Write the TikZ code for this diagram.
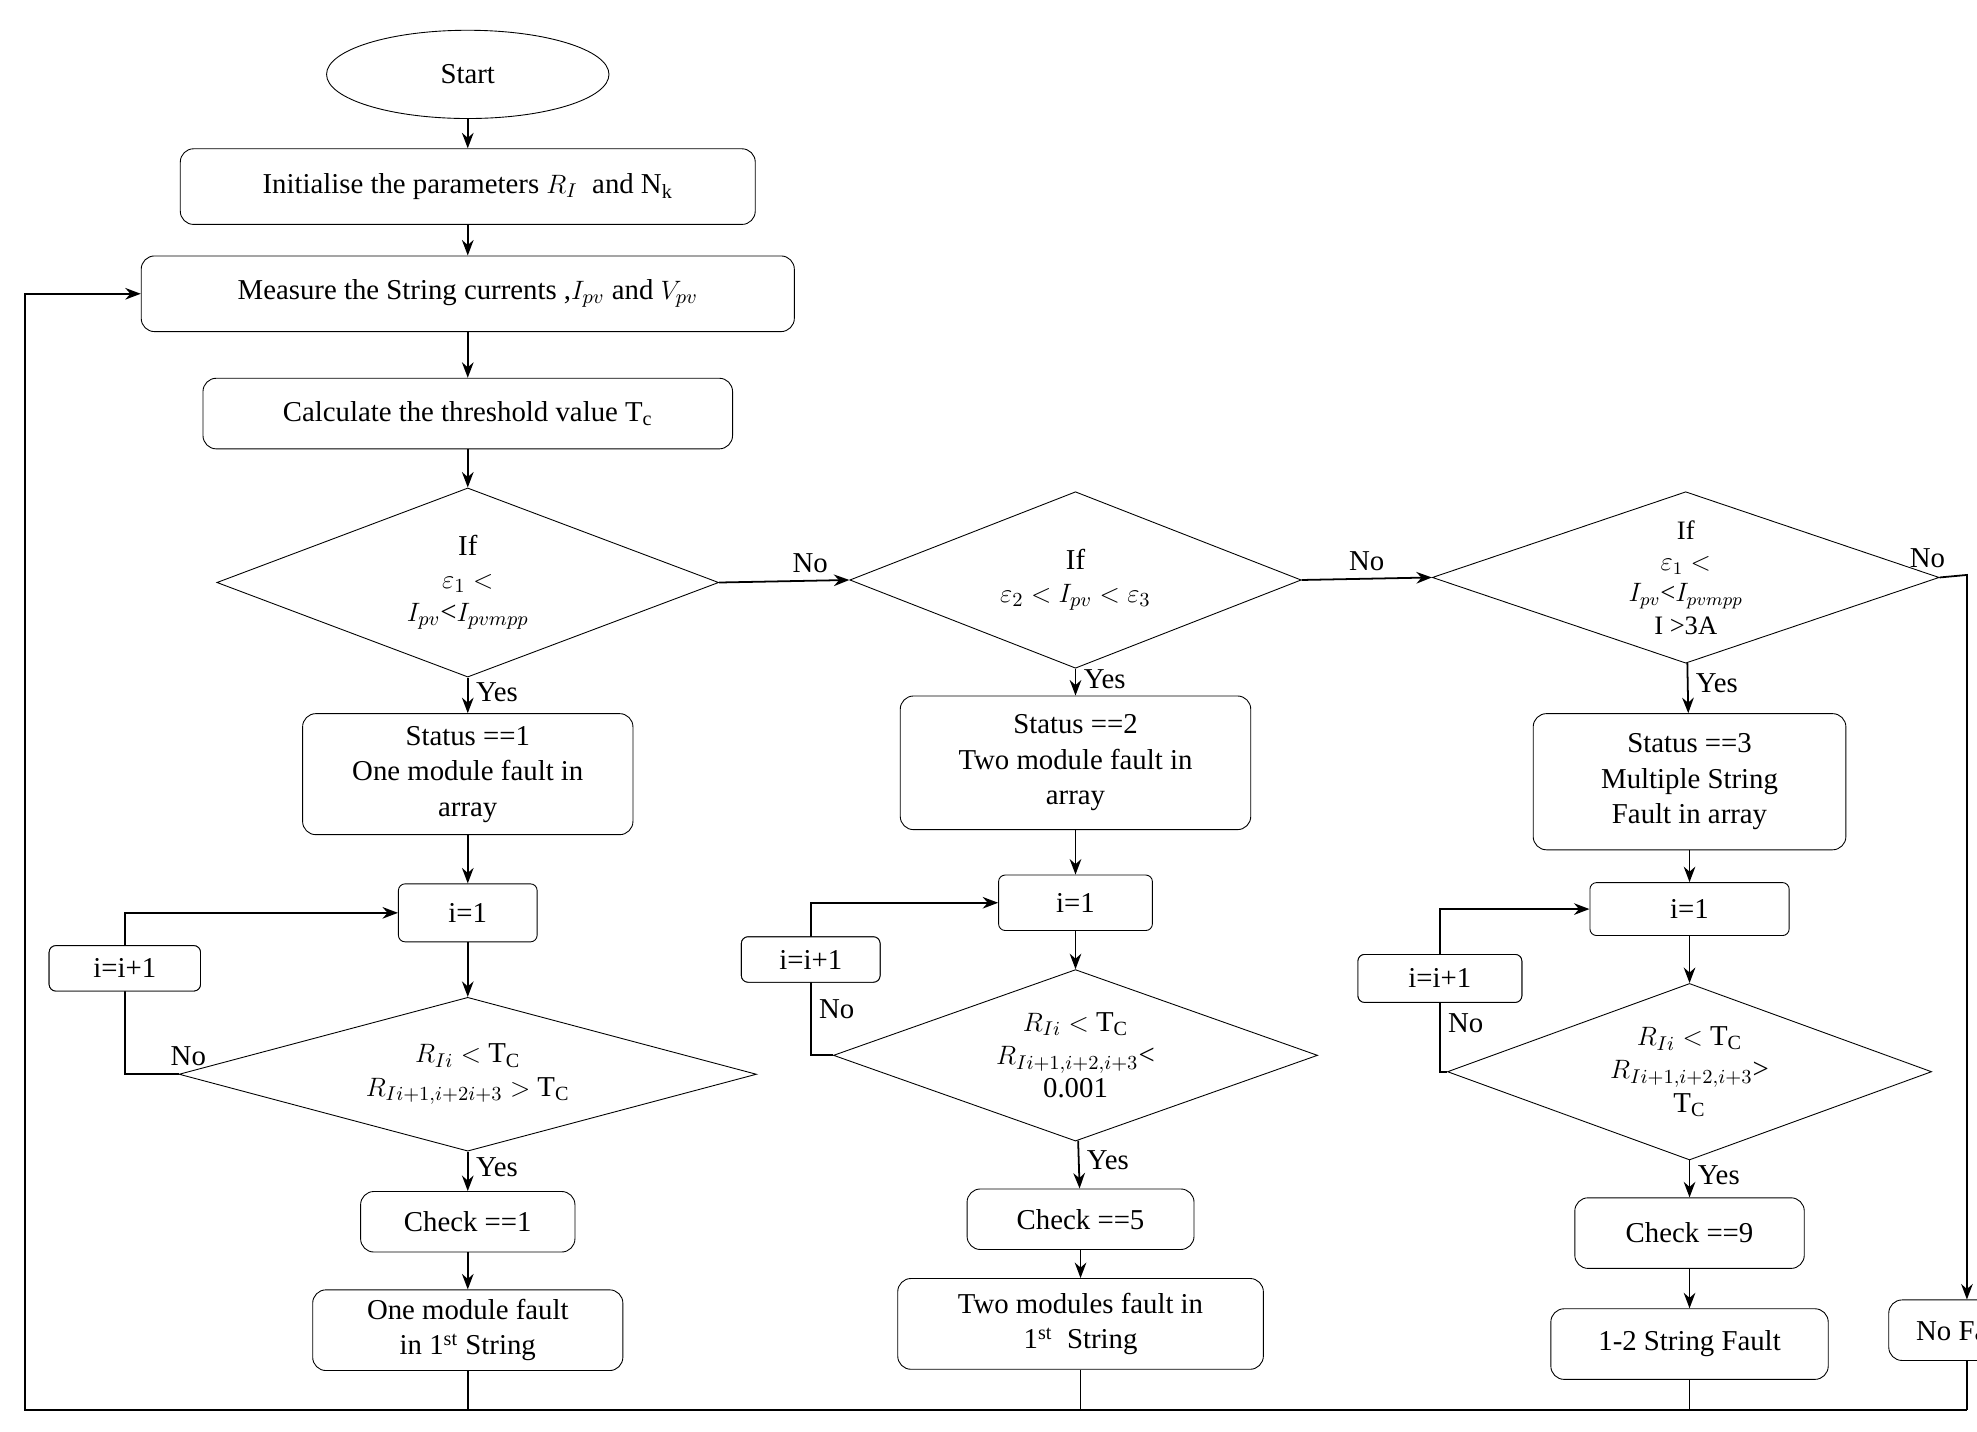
\documentclass[tikz,border=0pt]{standalone}
\usepackage{fontspec}
\setmainfont{Liberation Serif}
\usetikzlibrary{shapes.geometric,arrows.meta}
\tikzset{
  box/.style = {draw, rounded corners=6pt, align=center, inner sep=0pt, font=\fontsize{13}{16}\selectfont},
  dec/.style = {draw, diamond, aspect=2.6, align=center, inner sep=0pt, font=\fontsize{13}{15}\selectfont},
  arr/.style = {-{Stealth[length=7pt]}, thick},
  ln/.style = {thick},
  lab/.style = {font=\fontsize{13}{15}\selectfont}
}
\begin{document}
\begin{tikzpicture}[x=0.02cm, y=-0.02cm]
\useasboundingbox (0,0) rectangle (1568,1135);
\clip (0,0) rectangle (1568,1135);
% main column
\node[draw, ellipse, minimum width=224*0.02cm, minimum height=70*0.02cm, font=\fontsize{13}{15}\selectfont] (start) at (371,59) {Start};
\node[box, minimum width=456*0.02cm, minimum height=60*0.02cm] (init) at (371,148) {Initialise the parameters $R_I$ \ and N$_\mathrm{k}$};
\node[box, minimum width=518*0.02cm, minimum height=60*0.02cm] (meas) at (371,233) {Measure the String currents ,$I_{pv}$ and $V_{pv}$};
\node[box, minimum width=420*0.02cm, minimum height=56*0.02cm] (calc) at (371,328) {Calculate the threshold value T$_\mathrm{c}$};
% column 1
\node[dec, minimum width=398*0.02cm, minimum height=150*0.02cm] (d1) at (371,462) {If\\ $\varepsilon_1<$\\ $I_{pv}$<$I_{pvmpp}$};
\node[box, minimum width=262*0.02cm, minimum height=96*0.02cm] (s1) at (371,614) {Status ==1\\ One module fault in\\ array};
\node[box, rounded corners=3pt, minimum width=110*0.02cm, minimum height=46*0.02cm] (ia) at (371,724) {i=1};
\node[box, rounded corners=3pt, minimum width=120*0.02cm, minimum height=36*0.02cm, fill=white] (inca) at (99,768) {i=i+1};
\node[dec, minimum width=458*0.02cm, minimum height=122*0.02cm] (ra) at (371,852) {$R_{Ii}<$ T$_\mathrm{C}$\\ $R_{Ii+1,i+2i+3}>$ T$_\mathrm{C}$};
\node[box, minimum width=170*0.02cm, minimum height=48*0.02cm] (ca) at (371,969) {Check ==1};
\node[box, minimum width=246*0.02cm, minimum height=64*0.02cm] (oa) at (371,1055) {One module fault\\ in 1$^\mathrm{st}$ String};
% column 2
\node[dec, minimum width=358*0.02cm, minimum height=140*0.02cm] (d2) at (853,460) {If\\ $\varepsilon_2<I_{pv}<\varepsilon_3$};
\node[box, minimum width=278*0.02cm, minimum height=106*0.02cm] (s2) at (853,605) {Status ==2\\ Two module fault in\\ array};
\node[box, rounded corners=3pt, minimum width=122*0.02cm, minimum height=44*0.02cm] (ib) at (853,716) {i=1};
\node[box, rounded corners=3pt, minimum width=110*0.02cm, minimum height=36*0.02cm, fill=white] (incb) at (643,761) {i=i+1};
\node[dec, minimum width=384*0.02cm, minimum height=136*0.02cm] (rb) at (853,837) {$R_{Ii}<$ T$_\mathrm{C}$\\ $R_{Ii+1,i+2,i+3}$<\\ 0.001};
\node[box, minimum width=180*0.02cm, minimum height=48*0.02cm] (cb) at (857,967) {Check ==5};
\node[box, minimum width=290*0.02cm, minimum height=72*0.02cm] (ob) at (857,1050) {Two modules fault in\\ 1$^\mathrm{st}$ \ String};
% column 3
\node[dec, minimum width=402*0.02cm, minimum height=136*0.02cm, font=\fontsize{12}{14}\selectfont] (d3) at (1337,458) {If\\ $\varepsilon_1<$\\ $I_{pv}$<$I_{pvmpp}$\\[1pt] I >3A};
\node[box, minimum width=248*0.02cm, minimum height=108*0.02cm] (s3) at (1340,620) {Status ==3\\ Multiple String\\ Fault in array};
\node[box, rounded corners=3pt, minimum width=158*0.02cm, minimum height=42*0.02cm] (ic) at (1340,721) {i=1};
\node[box, rounded corners=3pt, minimum width=130*0.02cm, minimum height=38*0.02cm, fill=white] (incc) at (1142,776) {i=i+1};
\node[dec, minimum width=384*0.02cm, minimum height=140*0.02cm] (rc) at (1340,850) {$R_{Ii}<$ T$_\mathrm{C}$\\ $R_{Ii+1,i+2,i+3}$>\\ T$_\mathrm{C}$};
\node[box, minimum width=182*0.02cm, minimum height=56*0.02cm] (cc) at (1340,978) {Check ==9};
\node[box, minimum width=220*0.02cm, minimum height=56*0.02cm] (oc) at (1340,1066) {1-2 String Fault};
\node[box, minimum width=124*0.02cm, minimum height=48*0.02cm] (nf) at (1560,1055) {No Fault};
% bottom return line
\coordinate (bl) at (20,1118);
\coordinate (br) at (1560,1118);
\coordinate (bt) at (20,233);
\coordinate (nr) at (1560,456);
% connectors
\draw[arr] (start) -- (init);
\draw[arr] (init) -- (meas);
\draw[arr] (meas) -- (calc);
\draw[arr] (calc) -- (d1);
\draw[arr] (d1) -- node[lab, right, pos=0.4]{Yes} (s1);
\draw[arr] (s1) -- (ia);
\draw[arr] (ia) -- (ra);
\draw[arr] (ra) -- node[lab, right, pos=0.4]{Yes} (ca);
\draw[arr] (ca) -- (oa);
\draw[arr] (ra.west) -- node[lab, above right, pos=0.3]{No} (inca |- ra.west) -- (inca |- ia.west) -- (ia.west);
\draw[arr] (d2) -- node[lab, right, pos=0.4]{Yes} (s2);
\draw[arr] (s2) -- (ib);
\draw[arr] (ib) -- (rb);
\draw[arr] (rb) -- node[lab, right, pos=0.4]{Yes} (cb);
\draw[arr] (cb) -- (ob);
\draw[arr] (rb.west) -- (incb |- rb.west) -- node[lab, right, pos=0.3]{No} (incb |- ib.west) -- (ib.west);
\draw[arr] (d3) -- node[lab, right, pos=0.4]{Yes} (s3);
\draw[arr] (s3) -- (ic);
\draw[arr] (ic) -- (rc);
\draw[arr] (rc) -- node[lab, right, pos=0.4]{Yes} (cc);
\draw[arr] (cc) -- (oc);
\draw[arr] (rc.west) -- (incc |- rc.west) -- node[lab, right, pos=0.3]{No} (incc |- ic.west) -- (ic.west);
\node[box, rounded corners=3pt, minimum width=120*0.02cm, minimum height=36*0.02cm, fill=white] at (inca) {i=i+1};
\node[box, rounded corners=3pt, minimum width=110*0.02cm, minimum height=36*0.02cm, fill=white] at (incb) {i=i+1};
\node[box, rounded corners=3pt, minimum width=130*0.02cm, minimum height=38*0.02cm, fill=white] at (incc) {i=i+1};
\draw[arr] (d1.east) -- node[lab, above right]{No} (d2.west);
\draw[arr] (d2.east) -- node[lab, above]{No} (d3.west);
\draw[arr] (d3.east) -- node[lab, above left]{No} (nr) -- (nf.north);
\draw[ln] (oa) -- (oa |- bl);
\draw[ln] (ob) -- (ob |- bl);
\draw[ln] (oc) -- (oc |- bl);
\draw[ln] (nf) -- (br);
\draw[arr] (br) -- (bl) -- (bt) -- (meas.west);
\end{tikzpicture}
\end{document}
